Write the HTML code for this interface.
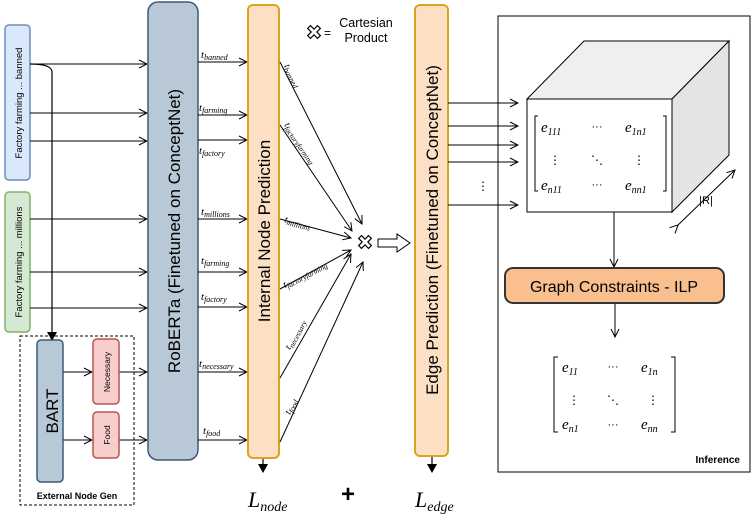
<!DOCTYPE html>
<html><head><meta charset="utf-8"><style>
body{margin:0;background:#fff}
svg{display:block}
text{font-family:"Liberation Sans",sans-serif}
.m,.m text,.m tspan{font-family:"Liberation Serif",serif;font-style:italic}
</style></head><body>
<svg width="752" height="516" viewBox="0 0 752 516" xmlns="http://www.w3.org/2000/svg">
<defs>
<marker id="a" markerWidth="10" markerHeight="10" refX="9" refY="5" orient="auto" markerUnits="userSpaceOnUse"><path d="M1,1 L9,5 L1,9" fill="none" stroke="#000" stroke-width="1"/></marker>
<marker id="f" markerWidth="10" markerHeight="10" refX="8" refY="5" orient="auto" markerUnits="userSpaceOnUse"><path d="M0,0 L9,5 L0,10 Z" fill="#000"/></marker>
</defs>
<!-- inference box first -->
<rect x="498" y="16" width="252" height="456" fill="#fff" stroke="#000" stroke-width="1"/>
<!-- input boxes -->
<rect x="5" y="25" width="25" height="155" rx="4" fill="#dae8fc" stroke="#6c8ebf" stroke-width="1.5"/>
<text transform="translate(22,103) rotate(-90)" font-size="9.5" text-anchor="middle">Factory farming ... banned</text>
<rect x="5" y="192" width="25" height="140" rx="4" fill="#d5e8d4" stroke="#82b366" stroke-width="1.5"/>
<text transform="translate(22,262) rotate(-90)" font-size="9.5" text-anchor="middle">Factory farming ... millions</text>
<g stroke="#000" stroke-width="1.2" fill="none">
<path d="M30,64 Q52,64 52,72 L52,330"/>
<path d="M52,330 L52,340" marker-end="url(#f)"/>
</g>
<g stroke="#000" stroke-width="1" fill="none">
<line x1="30" y1="64" x2="147" y2="64" marker-end="url(#a)"/>
<line x1="30" y1="113" x2="147" y2="113" marker-end="url(#a)"/>
<line x1="30" y1="141" x2="147" y2="141" marker-end="url(#a)"/>
<line x1="30" y1="219" x2="147" y2="219" marker-end="url(#a)"/>
<line x1="30" y1="272" x2="147" y2="272" marker-end="url(#a)"/>
<line x1="30" y1="308" x2="147" y2="308" marker-end="url(#a)"/>
<line x1="63" y1="372" x2="92" y2="372" marker-end="url(#a)"/>
<line x1="63" y1="440" x2="92" y2="440" marker-end="url(#a)"/>
<line x1="119" y1="372" x2="147" y2="372" marker-end="url(#a)"/>
<line x1="119" y1="440" x2="147" y2="440" marker-end="url(#a)"/>
</g>
<rect x="20" y="336" width="114" height="169" fill="none" stroke="#000" stroke-dasharray="3,2"/>
<text x="77" y="499" font-size="9" font-weight="bold" text-anchor="middle">External Node Gen</text>
<rect x="37" y="340" width="26" height="142" rx="4" fill="#b8c8d6" stroke="#3a5a78" stroke-width="1.5"/>
<text transform="translate(58,411) rotate(-90)" font-size="17" text-anchor="middle">BART</text>
<rect x="93" y="339" width="26" height="65" rx="4" fill="#f8cecc" stroke="#b85450" stroke-width="1.5"/>
<text transform="translate(110,372) rotate(-90)" font-size="8.5" text-anchor="middle">Necessary</text>
<rect x="93" y="412" width="26" height="46" rx="4" fill="#f8cecc" stroke="#b85450" stroke-width="1.5"/>
<text transform="translate(110,435) rotate(-90)" font-size="8.5" text-anchor="middle">Food</text>
<!-- RoBERTa -->
<rect x="148" y="2" width="50" height="458" rx="10" fill="#b8c8d6" stroke="#3a5a78" stroke-width="1.5"/>
<text transform="translate(180,231) rotate(-90)" font-size="17" text-anchor="middle">RoBERTa (Finetuned on ConceptNet)</text>
<g stroke="#000" stroke-width="1" fill="none">
<line x1="198" y1="62" x2="247" y2="62" marker-end="url(#a)"/>
<line x1="198" y1="115" x2="247" y2="115" marker-end="url(#a)"/>
<line x1="198" y1="140" x2="247" y2="140" marker-end="url(#a)"/>
<line x1="198" y1="219" x2="247" y2="219" marker-end="url(#a)"/>
<line x1="198" y1="272" x2="247" y2="272" marker-end="url(#a)"/>
<line x1="198" y1="307" x2="247" y2="307" marker-end="url(#a)"/>
<line x1="198" y1="372" x2="247" y2="372" marker-end="url(#a)"/>
<line x1="198" y1="440" x2="247" y2="440" marker-end="url(#a)"/>
</g>
<g class="m" font-size="11">
<text x="201" y="58">t<tspan font-size="8" dy="2">banned</tspan></text>
<text x="199" y="111">t<tspan font-size="8" dy="2">farming</tspan></text>
<text x="199" y="154">t<tspan font-size="8" dy="2">factory</tspan></text>
<text x="201" y="215">t<tspan font-size="8" dy="2">millions</tspan></text>
<text x="201" y="264">t<tspan font-size="8" dy="2">farming</tspan></text>
<text x="201" y="300">t<tspan font-size="8" dy="2">factory</tspan></text>
<text x="199" y="367">t<tspan font-size="8" dy="2">necessary</tspan></text>
<text x="203" y="434">t<tspan font-size="8" dy="2">food</tspan></text>
</g>
<!-- Internal node -->
<rect x="248" y="5" width="31" height="453" rx="5" fill="#fde0c4" stroke="#d9a520" stroke-width="2"/>
<text transform="translate(270,231) rotate(-90)" font-size="17" text-anchor="middle">Internal Node Prediction</text>
<line x1="263" y1="459" x2="263" y2="472" stroke="#000" stroke-width="1.2" marker-end="url(#f)"/>
<g stroke="#000" stroke-width="1" fill="none">
<line x1="280" y1="62" x2="362" y2="224" marker-end="url(#a)"/>
<line x1="280" y1="125" x2="352" y2="231" marker-end="url(#a)"/>
<line x1="280" y1="219" x2="351" y2="238" marker-end="url(#a)"/>
<line x1="280" y1="289" x2="351" y2="250" marker-end="url(#a)"/>
<line x1="280" y1="378" x2="351" y2="254" marker-end="url(#a)"/>
<line x1="280" y1="442" x2="363" y2="262" marker-end="url(#a)"/>
</g>
<g class="m" font-size="10">
<text transform="translate(284,66) rotate(62)">t<tspan font-size="7.5" dy="2">banned</tspan></text>
<text transform="translate(284,125) rotate(55)">t<tspan font-size="7.5" dy="2">factoryfarming</tspan></text>
<text transform="translate(284,222) rotate(15)">t<tspan font-size="7.5" dy="2">millions</tspan></text>
<text transform="translate(285,288) rotate(-28)">t<tspan font-size="7.5" dy="2">factoryfarming</tspan></text>
<text transform="translate(290,350) rotate(-62)">t<tspan font-size="7.5" dy="2">necessary</tspan></text>
<text transform="translate(290,415) rotate(-65)">t<tspan font-size="7.5" dy="2">food</tspan></text>
</g>
<g transform="translate(365,242) rotate(45)"><path d="M-2,-7 H2 V-2 H7 V2 H2 V7 H-2 V2 H-7 V-2 H-2 Z" fill="#fff" stroke="#000" stroke-width="1.2"/></g>
<g transform="translate(314,32) rotate(45)"><path d="M-2,-7 H2 V-2 H7 V2 H2 V7 H-2 V2 H-7 V-2 H-2 Z" fill="#fff" stroke="#000" stroke-width="1.2"/></g>
<text x="324" y="37" font-size="12">=</text>
<text x="366" y="27" font-size="12.5" text-anchor="middle">Cartesian</text>
<text x="366" y="42" font-size="12.5" text-anchor="middle">Product</text>
<path d="M378,239 H397 V234 L410,243 L397,252 V247 H378 Z" fill="#fff" stroke="#000" stroke-width="1"/>
<!-- Edge pred -->
<rect x="415" y="5" width="33" height="451" rx="5" fill="#fde0c4" stroke="#d9a520" stroke-width="2"/>
<text transform="translate(438,230) rotate(-90)" font-size="17" text-anchor="middle">Edge Prediction (Finetuned on ConceptNet)</text>
<line x1="432" y1="457" x2="432" y2="472" stroke="#000" stroke-width="1.2" marker-end="url(#f)"/>
<g stroke="#000" stroke-width="1" fill="none">
<line x1="448" y1="103" x2="518" y2="103" marker-end="url(#a)"/>
<line x1="448" y1="126" x2="518" y2="126" marker-end="url(#a)"/>
<line x1="448" y1="145" x2="518" y2="145" marker-end="url(#a)"/>
<line x1="448" y1="162" x2="518" y2="162" marker-end="url(#a)"/>
<line x1="448" y1="205" x2="518" y2="205" marker-end="url(#a)"/>
</g>
<text x="483" y="190" font-size="12" text-anchor="middle">⋮</text>
<text x="248" y="507" class="m" font-size="22">L<tspan font-size="14" dy="4">node</tspan></text>
<text x="341" y="502" font-size="24" font-weight="bold">+</text>
<text x="415" y="507" class="m" font-size="22">L<tspan font-size="14" dy="4">edge</tspan></text>
<!-- inference -->
<text x="740" y="463" font-size="10" font-weight="bold" text-anchor="end">Inference</text>
<path d="M527,99 L584,41 L729,41 L672,99 Z" fill="#efefef" stroke="#000"/>
<path d="M672,99 L729,41 L729,155 L672,212 Z" fill="#e4e4e4" stroke="#000"/>
<rect x="527" y="99" width="145" height="113" fill="#fff" stroke="#000"/>
<path d="M538,116 h-3 v75 h3 M663,116 h3 v75 h-3" fill="none" stroke="#000"/>
<g class="m" font-size="15">
<text x="541" y="132">e<tspan font-size="10" dy="3">111</tspan></text>
<text x="625" y="132">e<tspan font-size="10" dy="3">1n1</tspan></text>
<text x="541" y="190">e<tspan font-size="10" dy="3">n11</tspan></text>
<text x="625" y="190">e<tspan font-size="10" dy="3">nn1</tspan></text>
</g>
<text x="597" y="130" font-size="11" text-anchor="middle">···</text>
<text x="555" y="164" font-size="12" text-anchor="middle">⋮</text>
<text x="597" y="164" font-size="12" text-anchor="middle">⋱</text>
<text x="639" y="164" font-size="12" text-anchor="middle">⋮</text>
<text x="597" y="188" font-size="11" text-anchor="middle">···</text>
<line x1="678" y1="225" x2="735" y2="170" stroke="#000" marker-end="url(#a)" marker-start="url(#a)"/>
<text x="706" y="204" font-size="11" text-anchor="middle">|R|</text>
<line x1="614" y1="212" x2="614" y2="267" stroke="#000" marker-end="url(#a)"/>
<rect x="505" y="268" width="219" height="35" rx="8" fill="#f9bf8f" stroke="#333" stroke-width="2"/>
<text x="614" y="292" font-size="16" text-anchor="middle">Graph Constraints - ILP</text>
<line x1="615" y1="304" x2="615" y2="337" stroke="#000" marker-end="url(#a)"/>
<path d="M558,357 h-4 v75 h4 M671,357 h4 v75 h-4" fill="none" stroke="#000"/>
<g class="m" font-size="15">
<text x="562" y="372">e<tspan font-size="10" dy="3">11</tspan></text>
<text x="641" y="372">e<tspan font-size="10" dy="3">1n</tspan></text>
<text x="562" y="429">e<tspan font-size="10" dy="3">n1</tspan></text>
<text x="641" y="429">e<tspan font-size="10" dy="3">nn</tspan></text>
</g>
<text x="613" y="370" font-size="11" text-anchor="middle">···</text>
<text x="574" y="404" font-size="12" text-anchor="middle">⋮</text>
<text x="613" y="404" font-size="12" text-anchor="middle">⋱</text>
<text x="653" y="404" font-size="12" text-anchor="middle">⋮</text>
<text x="613" y="428" font-size="11" text-anchor="middle">···</text>
</svg>
</body></html>
